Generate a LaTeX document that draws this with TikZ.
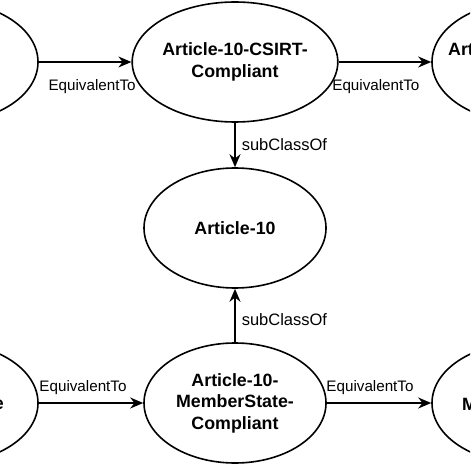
\documentclass[tikz,border=0pt]{standalone}
\usepackage{fontspec}
\setmainfont{Liberation Sans}
\usetikzlibrary{arrows.meta, shapes.geometric}

\tikzset{
  concept/.style={draw, line width=1.6pt, ellipse, minimum width=182pt, minimum height=120pt,
    inner sep=0pt, align=center, font=\fontsize{17.8}{21.5}\selectfont\bfseries},
  cut/.style={inner sep=0pt, font=\fontsize{17.8}{21.5}\selectfont\bfseries},
  link/.style={->, line width=1.6pt},
  rel/.style={inner sep=1pt, font=\fontsize{15.2}{17}\selectfont},
  sub/.style={inner sep=1pt, anchor=west, font=\fontsize{16.5}{19}\selectfont},
}

\begin{document}
\begin{tikzpicture}[x=1pt, y=1pt, >={Stealth[length=13pt, width=11pt]}]
    \useasboundingbox (0,0) rectangle (470,-470);
    \clip (0,0) rectangle (470,-470);

    % Top row
    \node[concept] (tl) at (-53,-62) {};
    \node[concept] (csirt) at (235,-62) {Article-10-CSIRT-\\Compliant};
    \node[concept] (tr) at (523,-62) {};
    \node[cut, anchor=base west] (trtext) at (448,-56) {Art};

    % Middle
    \node[concept] (art) at (235,-228) {Article-10};

    % Bottom row
    \node[concept] (bl) at (-53,-403) {};
    \node[cut, anchor=base east] (bltext) at (4,-409) {e};
    \node[concept] (ms) at (235,-403) {Article-10-\\MemberState-\\Compliant};
    \node[concept] (br) at (523,-403) {};
    \node[cut, anchor=base west] (brtext) at (462,-410) {M};

    % Equivalence links
    \draw[link] (tl) -- (csirt) node[rel, midway, xshift=7pt, yshift=-25pt] {EquivalentTo};
    \draw[link] (csirt) -- (tr) node[rel, midway, xshift=-9pt, yshift=-25pt] {EquivalentTo};
    \draw[link] (bl) -- (ms) node[rel, midway, xshift=-8pt, yshift=15pt] {EquivalentTo};
    \draw[link] (ms) -- (br) node[rel, midway, xshift=-9pt, yshift=15pt] {EquivalentTo};

    % Subclass links
    \draw[link] (csirt) -- (art) node[sub, midway, xshift=5pt] {subClassOf};
    \draw[link] (ms) -- (art) node[sub, midway, xshift=5pt, yshift=-4pt] {subClassOf};
\end{tikzpicture}
\end{document}
